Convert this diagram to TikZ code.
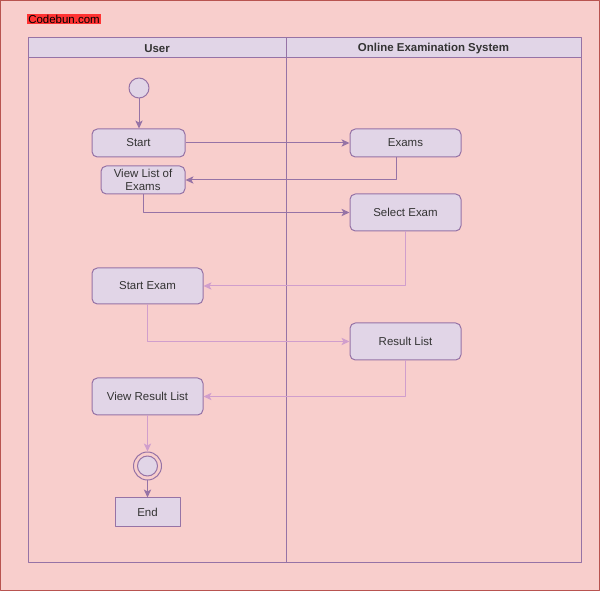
\documentclass[tikz,border=0pt]{standalone}
\usepackage{fontspec}
\setmainfont{Liberation Sans}
\usetikzlibrary{arrows.meta}
\definecolor{bgpink}{HTML}{F8CECC}
\definecolor{bgred}{HTML}{B85450}
\definecolor{lanefill}{HTML}{E1D5E7}
\definecolor{laneline}{HTML}{9673A6}
\definecolor{paleline}{RGB}{208,158,204}
\definecolor{tagred}{HTML}{FF3333}
\begin{document}
\begin{tikzpicture}[x=0.75pt,y=-0.75pt,font=\fontsize{8.6}{10}\selectfont, line join=round, >={Stealth[length=6pt,width=5.5pt,inset=1.5pt]},
  act/.style={draw=laneline,fill=lanefill,rounded corners=4pt,text=black!80,align=center,inner sep=0pt,line width=0.75pt},
  flow/.style={draw=laneline,->,line width=0.75pt},
  pale/.style={draw=paleline,->,line width=0.75pt}]
\useasboundingbox(0,0)rectangle(600,591);
\draw[bgred,fill=bgpink](0.5,0.5)rectangle(599.5,590.5);
\node[fill=tagred,inner sep=0.8pt,font=\fontsize{8.6}{10}\selectfont](tag)at(64,19){Codebun.com};
% swimlanes
\draw[laneline,fill=lanefill,line width=0.75pt](28,38)rectangle(581,58);
\draw[laneline,line width=0.75pt](28,58)rectangle(581,562);
\draw[laneline,line width=0.75pt](286,38)--(286,562);
\node[font=\bfseries\fontsize{8.6}{10}\selectfont,text=black!80](user)at(157,49){User};
\node[font=\bfseries\fontsize{8.6}{10}\selectfont,text=black!80](sys)at(433.5,49){Online Examination System};
% activities
\node[draw=laneline,fill=lanefill,circle,minimum size=15pt,inner sep=0pt,line width=0.75pt](init)at(139,88){};
\node[act,minimum width=69.75pt,minimum height=21pt](st)at(138.5,143){Start};
\node[act,minimum width=63pt,minimum height=21pt](vl)at(143,180){View List of\\Exams};
\node[act,minimum width=83.25pt,minimum height=21pt](ex)at(405.5,143){Exams};
\node[act,minimum width=83.25pt,minimum height=27.75pt](se)at(405.5,212.5){Select Exam};
\node[act,minimum width=83.25pt,minimum height=27pt](sx)at(147.5,286){Start Exam};
\node[act,minimum width=83.25pt,minimum height=27.75pt](rl)at(405.5,341.5){Result List};
\node[act,minimum width=83.25pt,minimum height=27.75pt](vr)at(147.5,396.5){View Result List};
\node[draw=laneline,circle,minimum size=21pt,inner sep=0pt,line width=0.75pt](fin)at(147.5,466){};
\fill[lanefill,draw=laneline,line width=0.75pt](fin.center)circle(7.5pt);
\node[act,rounded corners=0pt,minimum width=48.75pt,minimum height=21pt](en)at(147.5,512){End};
% flows
\draw[flow](init)--(init|-st.north);
\draw[flow](st)--(ex);
\draw[flow]([xshift=-7pt]ex.south)|-(vl.east);
\draw[flow](vl.south)|-(se.west);
\draw[pale](se.south)|-(sx.east);
\draw[pale](sx.south)|-(rl.west);
\draw[pale](rl.south)|-(vr.east);
\draw[pale](vr)--(fin);
\draw[flow](fin)--(en);
\end{tikzpicture}
\end{document}
